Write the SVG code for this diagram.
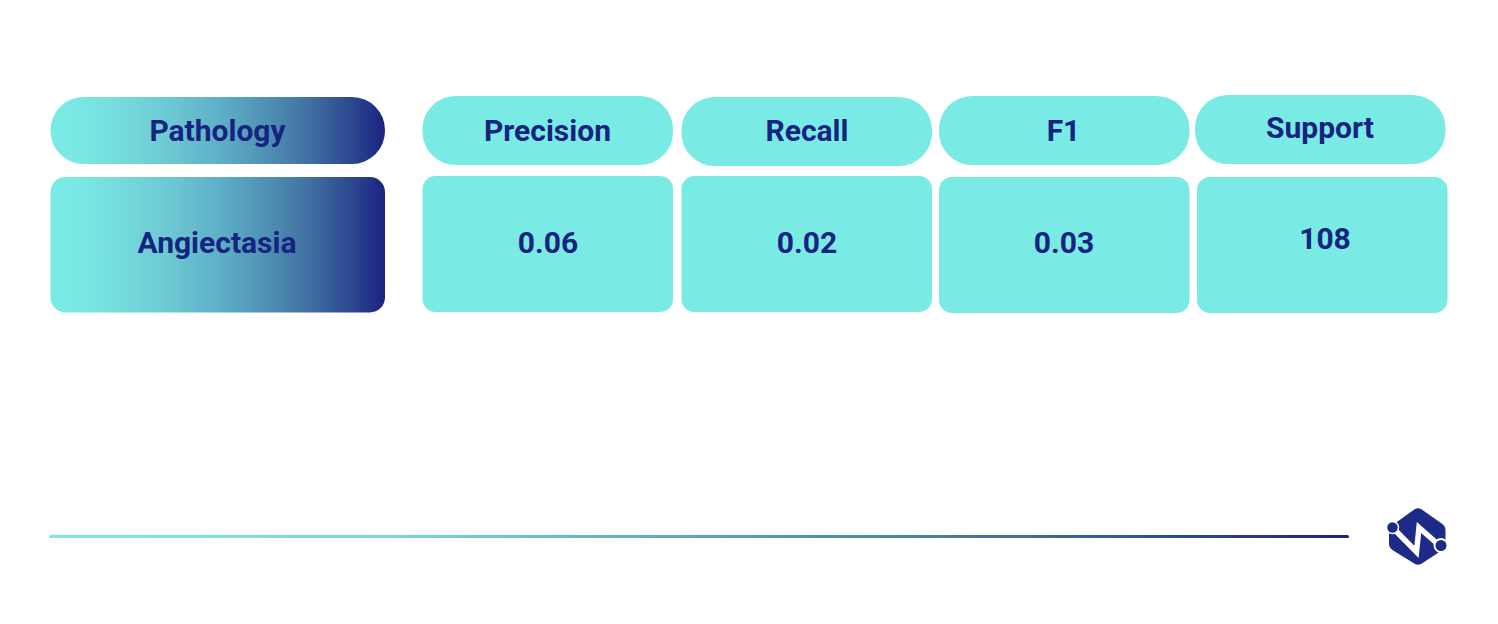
<svg xmlns="http://www.w3.org/2000/svg" width="1498" height="624" viewBox="0 0 1498 624">
<style>
.c{fill:#7aeae5}
.t{font-family:Roboto,"Liberation Sans",sans-serif;font-weight:700;font-size:30px;fill:#16237f;text-anchor:middle}
</style>
<defs>
<linearGradient id="g" x1="0" y1="0" x2="1" y2="0"><stop offset="0" stop-color="#7aeae5"/><stop offset=".08" stop-color="#7ae9e4"/><stop offset=".2" stop-color="#75dcdd"/><stop offset=".35" stop-color="#6cc9d3"/><stop offset=".5" stop-color="#5fb0c8"/><stop offset=".65" stop-color="#4f90b4"/><stop offset=".78" stop-color="#3f6ea0"/><stop offset=".9" stop-color="#2c4790"/><stop offset="1" stop-color="#1a2381"/></linearGradient>
<linearGradient id="l" gradientUnits="userSpaceOnUse" x1="49" y1="0" x2="1349" y2="0"><stop offset="0" stop-color="#7aeae5"/><stop offset=".25" stop-color="#74dcdb"/><stop offset=".75" stop-color="#3f6ea0"/><stop offset="1" stop-color="#1a2381"/></linearGradient>
</defs>
<rect width="1498" height="624" fill="#fff"/>
<g id="pathology-head"><rect x="50.500" y="97" width="334.500" height="67" rx="33" fill="url(#g)"/><text class="t" x="217.500" y="141">Pathology</text></g>
<g id="pathology-cell"><rect x="50.500" y="177" width="334.500" height="135.500" rx="15" fill="url(#g)"/><text class="t" x="217" y="253">Angiectasia</text></g>
<g id="precision-head"><rect class="c" x="422.500" y="96" width="250.500" height="69" rx="33"/><text class="t" x="547.500" y="141">Precision</text></g>
<g id="precision-cell"><rect class="c" x="422.500" y="176" width="250.500" height="136" rx="13"/><text class="t" x="548" y="253">0.06</text></g>
<g id="recall-head"><rect class="c" x="681.500" y="97" width="250.500" height="69" rx="33"/><text class="t" x="807" y="141">Recall</text></g>
<g id="recall-cell"><rect class="c" x="681.500" y="176" width="250.500" height="136" rx="13"/><text class="t" x="807" y="253">0.02</text></g>
<g id="f1-head"><rect class="c" x="939" y="96" width="250.500" height="69" rx="33"/><text class="t" x="1063.500" y="141">F1</text></g>
<g id="f1-cell"><rect class="c" x="939" y="177" width="250.500" height="136" rx="13"/><text class="t" x="1064" y="253">0.03</text></g>
<g id="support-head"><rect class="c" x="1195" y="95" width="250.500" height="69" rx="33"/><text class="t" x="1320" y="138">Support</text></g>
<g id="support-cell"><rect class="c" x="1197" y="177" width="250.500" height="136" rx="13"/><text class="t" x="1325" y="249">108</text></g>
<g id="connectors"><rect x="49" y="535" width="1300" height="3" rx="1.500" fill="url(#l)"/></g>
<g id="logo">
<path d="M1415 509Q1418 507.500 1421 509L1441 523Q1445.500 526 1445.500 530L1445.500 544Q1445.500 548 1441 551L1421 564Q1418 565.500 1415 564L1394 551Q1389 548 1389 544L1389 531Q1389 527 1394 524Z" fill="#1e2a87"/>
<path d="M1393 528L1416.500 552L1419 527.500L1440 546" fill="none" stroke="#fff" stroke-width="5.500" stroke-linejoin="miter"/>
<circle cx="1392.500" cy="527.500" r="6" fill="#1e2a87" stroke="#fff" stroke-width="1.500"/>
<circle cx="1441" cy="545.500" r="6.500" fill="#1e2a87" stroke="#fff" stroke-width="2"/>
</g>
</svg>
